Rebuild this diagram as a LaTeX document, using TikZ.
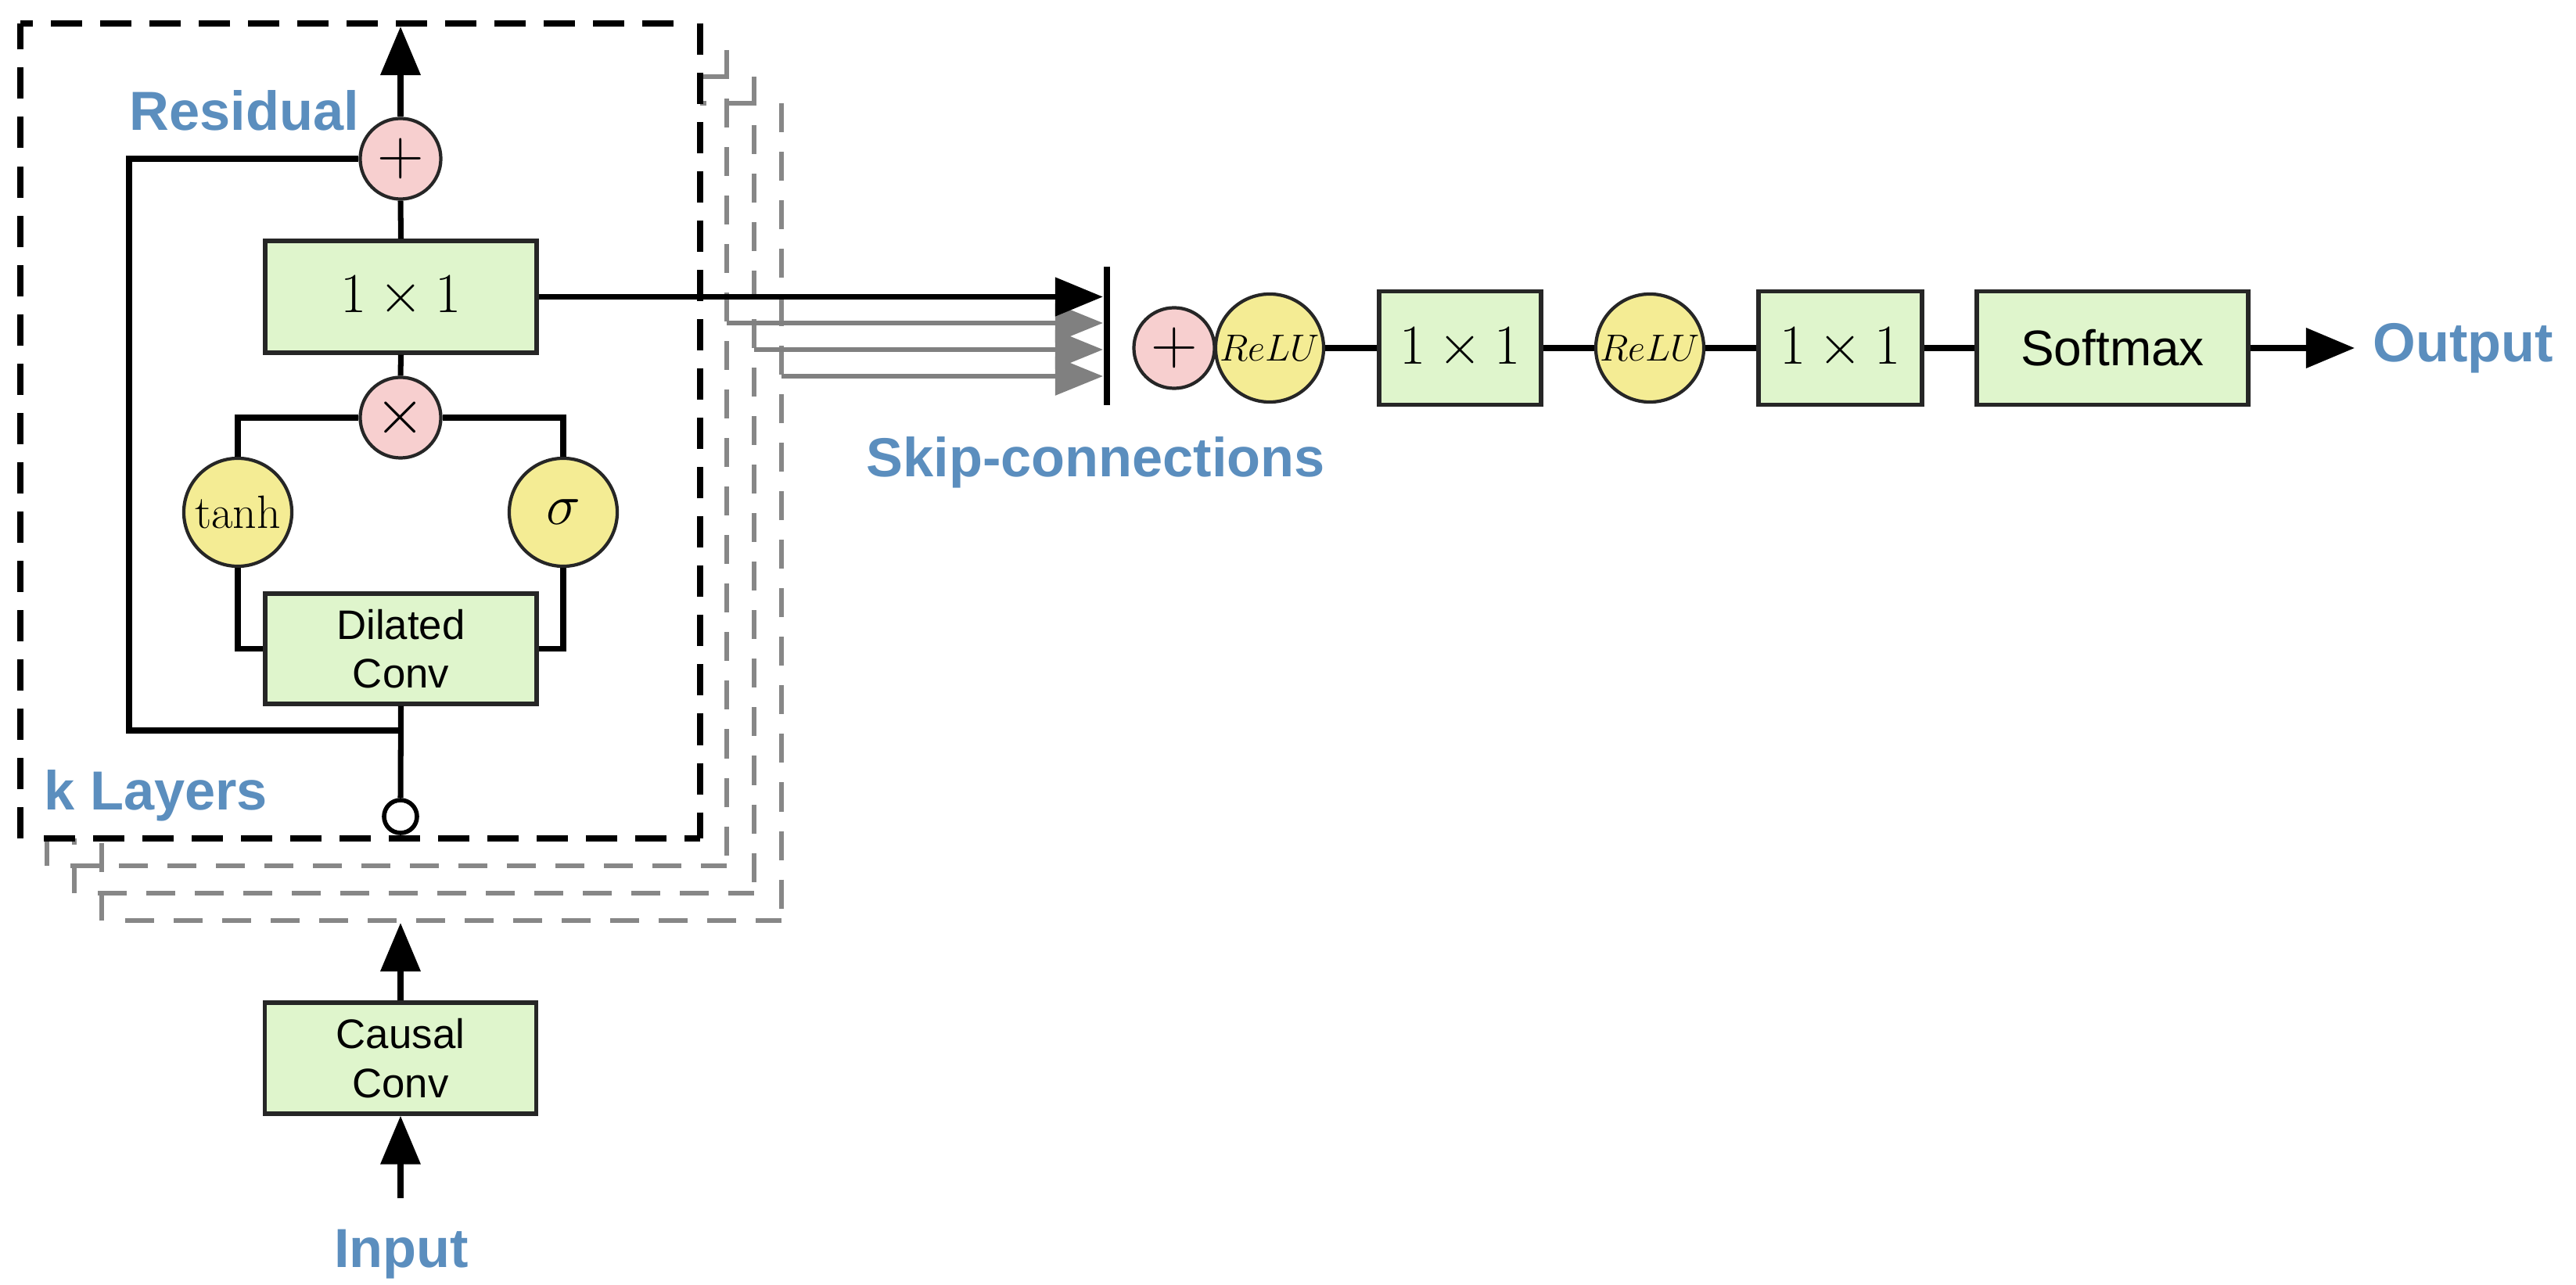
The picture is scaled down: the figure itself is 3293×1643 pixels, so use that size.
\RequirePackage{fix-cm}
\documentclass[tikz,border=0pt]{standalone}
\usepackage{fontspec}
\setsansfont{Liberation Sans}
\usetikzlibrary{arrows.meta}
\definecolor{pinkc}{RGB}{247,207,207}
\definecolor{yelc}{RGB}{244,236,148}
\definecolor{grnc}{RGB}{223,245,204}
\definecolor{bluec}{RGB}{91,142,190}
\definecolor{grayl}{RGB}{128,128,128}
\definecolor{grayd}{RGB}{135,135,135}
% dashed frame drawn edge by edge: #1=left #2=top #3=right #4=bottom #5=style
\newcommand\dframe[5]{%
  \draw[#5] (#3,#2) -- (#3,#4);
  \draw[#5] ({#3-34},#2) -- (#1,#2);
  \draw[#5] (#1,#4) -- (#1,#2);
  \draw[#5] ({#1+30},#4) -- (#3,#4);
}
\begin{document}
\begin{tikzpicture}[x=0.01cm,y=-0.01cm,
  box/.style={draw=black!85, line width=1.5pt, fill=grnc, inner sep=0, minimum width=3.47cm, minimum height=1.43cm, align=center},
  opc/.style={circle, draw=black!85, line width=1.2pt, fill=pinkc, inner sep=0, minimum size=1.03cm, font=\fontsize{23.5}{25}\selectfont},
  act/.style={circle, draw=black!85, line width=1.2pt, fill=yelc, inner sep=0, minimum size=1.38cm},
  lbl/.style={text=bluec, inner sep=0, font=\sffamily\bfseries\fontsize{20}{24}\selectfont},
  conn/.style={line width=2pt},
  arr/.style={line width=2pt, -{Triangle[length=0.62cm,width=0.5cm]}},
  garr/.style={line width=1.6pt, grayl, -{Triangle[length=0.61cm,width=0.48cm]}},
  sarr/.style={line width=2.2pt, -{Triangle[length=0.61cm,width=0.48cm]}},
  gframe/.style={grayd, line width=1.7pt, dash pattern=on 0.37cm off 0.25cm},
  bframe/.style={black, line width=2pt, dash pattern=on 0.40cm off 0.23cm},
  mathbig/.style={font=\fontsize{20.5}{24}\selectfont},
  sansbox/.style={font=\sffamily\fontsize{15}{17.8}\selectfont}
]
\useasboundingbox (0,0) rectangle (3293,1643);

% stacked layer frames
\dframe{130}{132}{999}{1177}{gframe}
\dframe{95}{98}{964}{1142}{gframe}
\dframe{60}{64}{929}{1107}{gframe}
\fill[white] (26,30) rectangle (895,1072);
\dframe{26}{30}{895}{1072}{bframe}

% residual block
\node[box, mathbig] (res1) at (512.5,379.5) {$1\times1$};
\node[opc] (add) at (512,203) {$+$};
\node[opc] (mul) at (512,534) {$\times$};
\node[act, font=\fontsize{17}{19}\selectfont] (tanh) at (304,655) {$\tanh$};
\node[act, font=\fontsize{21}{24}\selectfont] (sig) at (720,655) {$\sigma$};
\node[box, sansbox, minimum height=1.41cm] (dil) at (512.5,829.5) {Dilated\\Conv};
\node[circle, draw, line width=1.6pt, fill=white, minimum size=0.42cm, inner sep=0] (tap) at (512,1044) {};

\coordinate (top) at (512,34);
\draw[arr] (add.north) -- (top);
\draw[conn] (res1.north) -- (add.south);
\draw[conn] (res1.south) -- (mul.north);
\draw[conn] (mul.west) -| (tanh.north);
\draw[conn] (mul.east) -| (sig.north);
\draw[conn] (tanh.south) |- (dil.west);
\draw[conn] (sig.south) |- (dil.east);
\draw[conn] (dil.south) -- (tap.north);
\coordinate (loopc) at (165,934);
\draw[conn] (add.west) -| (loopc) -- (loopc -| dil.south);

\node[lbl, anchor=base west] (lres) at (165,167) {Residual};
\node[lbl, anchor=base west] (lk) at (56,1035) {k Layers};

% skip connections
\coordinate (skipend) at (1410,378);
\coordinate (g2) at (929,413);
\coordinate (g3) at (964,447);
\coordinate (g4) at (999,481);
\draw[garr] (g4) -- (g4 -| skipend);
\draw[garr] (g3) -- (g3 -| skipend);
\draw[garr] (g2) -- (g2 -| skipend);
\draw[sarr] (res1.east) -- (res1.east -| skipend);
\coordinate (bart) at (1415,341);
\coordinate (barb) at (1415,518);
\draw[line width=2pt] (bart) -- (barb);
\node[lbl, anchor=base west] (lskip) at (1107,610) {Skip-connections};

% output stack
\node[opc] (sum) at (1501,445) {$+$};
\node[act, font=\fontsize{13.7}{16}\selectfont] (relu1) at (1623,445) {$ReLU$};
\node[box, mathbig, minimum width=2.07cm, minimum height=1.45cm] (c1) at (1866.5,445) {$1\times1$};
\node[act, font=\fontsize{13.7}{16}\selectfont] (relu2) at (2109,445) {$ReLU$};
\node[box, mathbig, minimum width=2.09cm, minimum height=1.45cm] (c2) at (2352.5,445) {$1\times1$};
\node[box, font=\sffamily\fontsize{18.2}{20}\selectfont, minimum width=3.47cm, minimum height=1.45cm] (soft) at (2700.5,445) {Softmax};
\draw[conn] (relu1) -- (c1);
\draw[conn] (c1) -- (relu2);
\draw[conn] (relu2) -- (c2);
\draw[conn] (c2) -- (soft);
\coordinate (outend) at (3010,445);
\draw[arr] (soft.east) -- (outend);
\node[lbl, anchor=base west] (out) at (3033,463) {Output};

% input
\node[box, sansbox, minimum height=1.42cm] (causal) at (512,1353) {Causal\\Conv};
\coordinate (intop) at (512,1180);
\draw[arr] (causal.north) -- (intop);
\coordinate (inbot) at (512,1532);
\draw[arr] (inbot) -- (causal.south);
\node[lbl, anchor=base] (inp) at (513,1620) {Input};
\end{tikzpicture}
\end{document}
